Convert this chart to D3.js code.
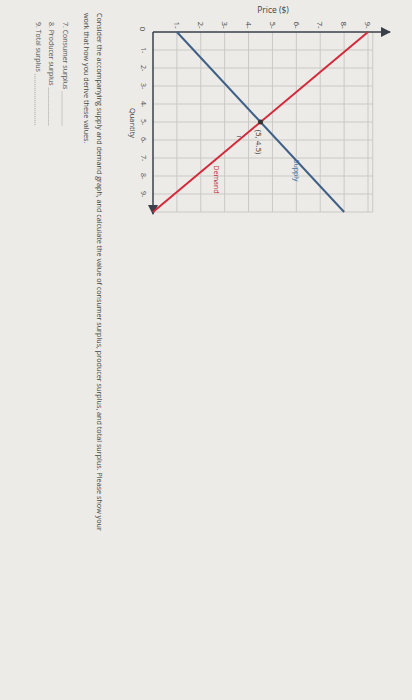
<!DOCTYPE html>
<html><head><meta charset="utf-8">
<script src="https://cdn.jsdelivr.net/npm/d3@7"></script>
<style>body{margin:0;background:#ecebe8}svg{display:block}</style>
</head><body>
<svg id="c" width="412" height="700"></svg>
<script>
const priceTicks = [0,1,2,3,4,5,6,7,8,9];
const quantityTicks = [1,2,3,4,5,6,7,8,9];
const supply = [{q:0,p:1},{q:10,p:8}];
const demand = [{q:0,p:9},{q:10,p:0}];
const equilibrium = {q:5,p:4.5,label:"(5, 4.5)"};
const questionLines = ["Consider the accompanying supply and demand graph, and calculate the value of consumer surplus, producer surplus, and total surplus. Please show your",
  "work that how you derive these values."];
const items = ["7. Consumer surplus","8. Producer surplus","9. Total surplus"];

const svg = d3.select("#c");
svg.append("rect").attr("width",412).attr("height",700).attr("fill","#ecebe8");
const xP = d3.scaleLinear().domain([0,9]).range([153,368]);
const yQ = d3.scaleLinear().domain([0,10]).range([32,212]);
const font = "'Open Sans', sans-serif";
const g = svg.append("g");
g.selectAll(".gv").data(d3.range(1,10)).join("line")
  .attr("x1",d=>xP(d)).attr("x2",d=>xP(d)).attr("y1",yQ(0)).attr("y2",yQ(10))
  .attr("stroke","#c9c9c6").attr("stroke-width",1);
g.append("line").attr("x1",xP(9.2)).attr("x2",xP(9.2)).attr("y1",yQ(0)).attr("y2",yQ(10)).attr("stroke","#c9c9c6");
g.selectAll(".gh").data(d3.range(1,11)).join("line")
  .attr("x1",xP(0)).attr("x2",xP(9.2)).attr("y1",d=>yQ(d)).attr("y2",d=>yQ(d))
  .attr("stroke","#c9c9c6").attr("stroke-width",1);
const defs = svg.append("defs");
defs.append("marker").attr("id","ar").attr("viewBox","0 0 10 10").attr("refX",9).attr("refY",5)
  .attr("markerWidth",7).attr("markerHeight",7).attr("orient","auto")
  .append("path").attr("d","M0,0L10,5L0,10z").attr("fill","#3a3f4a");
g.append("line").attr("x1",xP(0)).attr("y1",yQ(0)).attr("x2",390).attr("y2",yQ(0))
  .attr("stroke","#3a3f4a").attr("stroke-width",1.5).attr("marker-end","url(#ar)");
g.append("line").attr("x1",xP(0)).attr("y1",yQ(0)).attr("x2",xP(0)).attr("y2",214)
  .attr("stroke","#3a3f4a").attr("stroke-width",1.5).attr("marker-end","url(#ar)");
g.selectAll(".pt").data(priceTicks).join("text")
  .attr("transform",d=>`translate(${d===0?xP(0)-10:xP(d)},${d===0?29:25}) rotate(90)`)
  .attr("text-anchor","middle").attr("dy","0.35em").attr("font-family",font).attr("font-size",8).attr("fill","#444")
  .text(d=>d===0?"0":d+"-");
g.selectAll(".qt").data(quantityTicks).join("text")
  .attr("transform",d=>`translate(143,${yQ(d)}) rotate(90)`)
  .attr("text-anchor","middle").attr("dy","0.35em").attr("font-family",font).attr("font-size",7).attr("fill","#555")
  .text(d=>d+"-");
g.append("text").attr("x",273).attr("y",13).attr("text-anchor","middle").attr("font-family",font)
  .attr("font-size",8.5).attr("fill","#444").text("Price ($)");
g.append("text").attr("transform","translate(130,123) rotate(90)").attr("text-anchor","middle")
  .attr("font-family",font).attr("font-size",7.5).attr("fill","#444").text("Quantity");
const line = d3.line().x(d=>xP(d.p)).y(d=>yQ(d.q));
g.append("path").datum(supply).attr("d",line).attr("stroke","#3f5f86").attr("stroke-width",2).attr("fill","none");
g.append("path").datum(demand).attr("d",line).attr("stroke","#d6283a").attr("stroke-width",2).attr("fill","none");
g.append("circle").attr("cx",xP(equilibrium.p)).attr("cy",yQ(equilibrium.q)).attr("r",2.5).attr("fill","#333");
g.append("text").attr("transform",`translate(${xP(equilibrium.p)-2},${yQ(equilibrium.q)+20}) rotate(90)`)
  .attr("text-anchor","middle").attr("dy","0.35em").attr("font-family",font).attr("font-size",8).attr("fill","#333").text(equilibrium.label);
g.append("text").attr("transform",`translate(${xP(3.5)},${yQ(5.8)}) rotate(90)`).attr("text-anchor","middle")
  .attr("font-family",font).attr("font-size",7).attr("fill","#333").text("↑");
g.append("text").attr("transform",`translate(${xP(6)},${yQ(7.7)}) rotate(90)`).attr("text-anchor","middle")
  .attr("dy","0.35em").attr("font-family",font).attr("font-size",7).attr("fill","#3f6fa6").text("Supply");
g.append("text").attr("transform",`translate(${xP(2.65)},${yQ(8.2)}) rotate(90)`).attr("text-anchor","middle")
  .attr("dy","0.35em").attr("font-family",font).attr("font-size",7).attr("fill","#c8283a").text("Demand");
questionLines.forEach((t,i)=>{
  svg.append("text").attr("transform",`translate(${100-i*13},13) rotate(90)`).attr("dy","0.35em")
    .attr("font-family",font).attr("font-size",7.2).attr("fill","#444").text(t);
});
items.forEach((t,i)=>{
  const tx = 65-i*13.5;
  const el = svg.append("text").attr("transform",`translate(${tx},22) rotate(90)`).attr("dy","0.35em")
    .attr("font-family",font).attr("font-size",7).attr("fill","#555").text(t);
  const w = el.node().getComputedTextLength();
  svg.append("line").attr("x1",tx-3).attr("x2",tx-3).attr("y1",22+w+2).attr("y2",126)
    .attr("stroke","#777").attr("stroke-width",0.6).attr("stroke-dasharray","1,1");
});
</script>
</body></html>
